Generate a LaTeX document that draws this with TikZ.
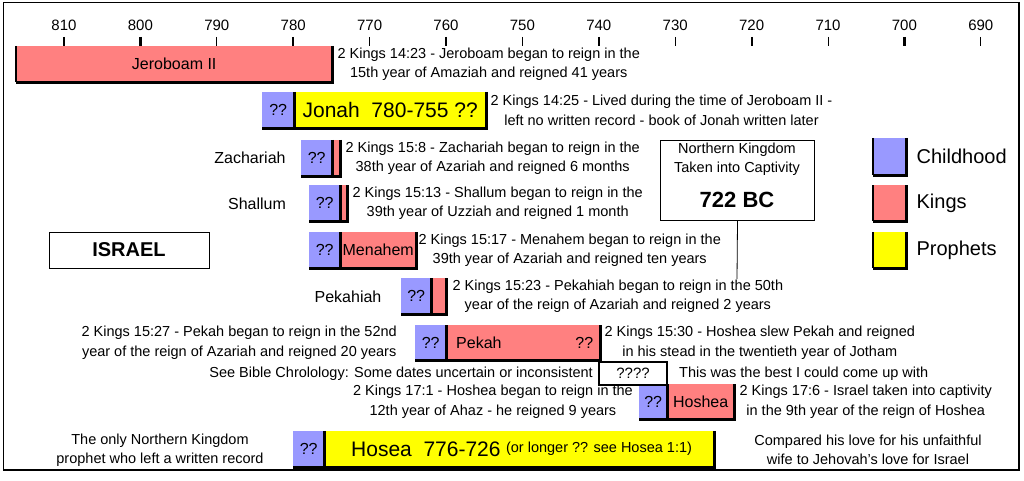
\documentclass[tikz,border=0pt]{standalone}
\usepackage{fontspec}
\setmainfont{Liberation Sans}
\usepackage{tikz}
\usetikzlibrary{positioning}

\definecolor{kidblue}{HTML}{9999FF}
\definecolor{kingred}{HTML}{FF8080}
\definecolor{prophyel}{HTML}{FFFF00}

\begin{document}
\begin{tikzpicture}[
  x=1pt, y=-1pt,
  font=\fontsize{15}{18}\selectfont,
  seg/.style={rectangle, inner sep=0pt, anchor=north west, font=\fontsize{16}{18}\selectfont},
  seg_kid/.style={seg, fill=kidblue},
  seg_king/.style={seg, fill=kingred},
  seg_proph/.style={seg, fill=prophyel},
  rim/.style={draw=black, line width=2.4pt},
  note/.style={align=center, inner sep=0pt, font=\fontsize{14.5}{19.5}\selectfont},
  lbl/.style={inner sep=0pt, font=\fontsize{16}{18}\selectfont},
  box/.style={draw=black, line width=1pt, inner sep=0pt}
]
% Pixel grid: 1 unit = 1pt, y grows downwards; year -> x via \xA and \pxYr.
\def\xA{64}
\def\pxYr{7.64}
\def\barH{36}
\useasboundingbox (0,0) rectangle (1024,481);

% --- Frame ---
\draw[line width=1pt] (3,3) rectangle (1019,470);
\draw[line width=2pt] (1019,3) -- (1019,470) -- (3,470);

% --- Year axis ---
\foreach \yr/\tw in {810/2.2,800/2.2,790/1,780/2.2,770/1,760/2.2,750/1,740/2.2,730/1,720/2.2,710/1,700/2.2,690/1} {
  \pgfmathsetmacro{\tx}{\xA+(810-\yr)*\pxYr}
  \draw[line width=\tw pt] (\tx,37) -- (\tx,46);
  \node (yr\yr) at (\tx,25) {\yr};
}

% --- Bars (childhood / kings / prophets) ---
\node[seg_king, minimum width=316, minimum height=\barH] (jer) at (16,46) {Jeroboam II};

\node[seg_kid, minimum width=32, minimum height=\barH] (jonA) at (262,92) {??};
\node[seg_proph, minimum width=192, minimum height=\barH, font=\fontsize{21}{24}\selectfont] (jonB) at (294,92) {Jonah\ \ 780-755 ??};

\node[seg_kid, minimum width=31, minimum height=\barH] (zacA) at (301,140) {??};
\node[seg_king, minimum width=8, minimum height=\barH] (zacB) at (332,140) {};

\node[seg_kid, minimum width=31, minimum height=\barH] (shaA) at (309,185) {??};
\node[seg_king, minimum width=7, minimum height=\barH] (shaB) at (340,185) {};

\node[seg_kid, minimum width=31, minimum height=\barH] (menA) at (309,232) {??};
\node[seg_king, minimum width=76, minimum height=\barH] (menB) at (340,232) {Menahem};

\node[seg_kid, minimum width=30, minimum height=\barH] (pkhA) at (401,278) {??};
\node[seg_king, minimum width=15, minimum height=\barH] (pkhB) at (431,278) {};

\node[seg_kid, minimum width=31, minimum height=35] (pekA) at (415,325) {??};
\node[seg_king, minimum width=154, minimum height=35] (pekB) at (446,325) {};
\node[lbl, anchor=west] (pekTxt) at ([xshift=10pt]pekB.west) {Pekah};
\node[lbl, anchor=east] (pekQ) at ([xshift=-7pt]pekB.east) {??};

\node[seg_kid, minimum width=28, minimum height=35] (hshA) at (639,384) {??};
\node[seg_king, minimum width=67, minimum height=35] (hshB) at (667,384) {Hoshea};

\node[seg_kid, minimum width=31, minimum height=\barH] (hosA) at (293,431) {??};
\node[seg_proph, minimum width=390, minimum height=\barH] (hosB) at (324,431) {};
\node[lbl, anchor=west, font=\fontsize{21}{24}\selectfont] (hosTxt) at (351,449) {Hosea\ \ 776-726};
\node[note, right=5pt of hosTxt] (hosNote) {(or longer ?? see Hosea 1:1)};

% --- Legend ---
\node[seg_kid, minimum width=33, minimum height=37] (legA) at (873,138) {};
\node[seg_king, minimum width=33, minimum height=36] (legB) at (873,185) {};
\node[seg_proph, minimum width=33, minimum height=36] (legC) at (873,232) {};
\node[lbl, anchor=west, font=\fontsize{20}{22}\selectfont, right=10pt of legA] (legAtxt) {Childhood};
\node[lbl, anchor=west, font=\fontsize{20}{22}\selectfont, right=10pt of legB] (legBtxt) {Kings};
\node[lbl, anchor=west, font=\fontsize{20}{22}\selectfont, right=10pt of legC] (legCtxt) {Prophets};

% black right and bottom rims on every segment
\foreach \n in {jer,jonA,jonB,zacA,zacB,shaA,shaB,menA,menB,pkhA,pkhB,pekA,pekB,hshA,hshB,hosA,hosB,legA,legB,legC} {
  \draw[rim] (\n.north east) -- (\n.south east) -- (\n.south west);
}
\foreach \n in {jer,legA,legB,legC} {
  \draw[rim] (\n.north west) -- (\n.south west);
}

% --- Names left of the short reigns ---
\node[lbl] (zacName) at (250,158) {Zachariah};
\node[lbl] (shaName) at (257,204) {Shallum};
\node[lbl] (pkhName) at (348,297) {Pekahiah};

% --- Scripture notes ---
\node[note, right=5pt of jer] (noteJer) {2 Kings 14:23 - Jeroboam began to reign in the\\15th year of Amaziah and reigned 41 years};
\node[note, right=4pt of jonB] (noteJon) {2 Kings 14:25 - Lived during the time of Jeroboam II -\\left no written record - book of Jonah written later};
\node[note, right=5pt of zacB] (noteZac) {2 Kings 15:8 - Zachariah began to reign in the\\38th year of Azariah and reigned 6 months};
\node[note, right=5pt of shaB] (noteSha) {2 Kings 15:13 - Shallum began to reign in the\\39th year of Uzziah and reigned 1 month};
\node[note, right=2pt of menB] (noteMen) {2 Kings 15:17 - Menahem began to reign in the\\39th year of Azariah and reigned ten years};
\node[note, right=6pt of pkhB] (notePkh) {2 Kings 15:23 - Pekahiah began to reign in the 50th\\year of the reign of Azariah and reigned 2 years};
\node[note, left=18pt of pekA] (notePekL) {2 Kings 15:27 - Pekah began to reign in the 52nd\\year of the reign of Azariah and reigned 20 years};
\node[note, right=4pt of pekB] (notePekR) {2 Kings 15:30 - Hoshea slew Pekah and reigned\\in his stead in the twentieth year of Jotham};
\node[note, left=6pt of hshA] (noteHshL) {2 Kings 17:1 - Hoshea began to reign in the\\12th year of Ahaz - he reigned 9 years};
\node[note, right=5pt of hshB] (noteHshR) {2 Kings 17:6 - Israel taken into captivity\\in the 9th year of the reign of Hoshea};
\node[note] (noteHosL) at (160,450) {The only Northern Kingdom\\prophet who left a written record};
\node[note] (noteHosR) at (868,450) {Compared his love for his unfaithful\\wife to Jehovah's love for Israel};

% --- Uncertain dates ---
\node[box, line width=2pt, minimum width=68, minimum height=23, font=\fontsize{15}{18}\selectfont] (guess) at (633,373.5) {????};
\node[note, left=5pt of guess] (noteSee) {See Bible Chrolology: Some dates uncertain or inconsistent};
\node[note, right=11pt of guess] (noteBest) {This was the best I could come up with};

% --- Israel and the captivity ---
\node[box, minimum width=160, minimum height=36, font=\fontsize{20}{22}\selectfont\bfseries] (israel) at (129,250) {ISRAEL};
\node[box, minimum width=154, minimum height=80, anchor=north west] (capbox) at (660,140) {};
\node[note] (capL1) at (737,150) {Northern Kingdom};
\node[note] (capL2) at (737,169) {Taken into Captivity};
\node[note, font=\fontsize{22}{24}\selectfont\bfseries] (capYr) at (737,200) {722 BC};
\coordinate (capEnd) at (737,279);
\draw[line width=0.8pt] (capbox.south) -- (capEnd);

\end{tikzpicture}
\end{document}
